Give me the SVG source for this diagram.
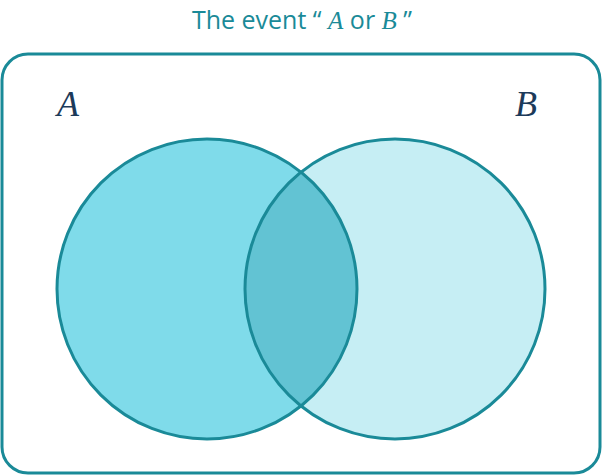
<svg xmlns="http://www.w3.org/2000/svg" width="603" height="476" viewBox="0 0 603 476">
<style>
.t{font-family:"Open Sans","Liberation Sans",sans-serif;font-size:25px;fill:#1a8a98}
.m{font-family:"Liberation Serif",serif;font-style:italic}
.l{font-family:"Liberation Serif",serif;font-style:italic;font-size:36px;fill:#1c3a5a}
.s{stroke:#1a8a98;stroke-width:3}
</style>
<defs><clipPath id="ca"><circle cx="207" cy="289" r="150"/></clipPath></defs>
<text class="t" x="302" y="29" text-anchor="middle">The event “ <tspan class="m">A</tspan> or <tspan class="m">B</tspan> ”</text>
<rect x="2" y="54" width="598" height="419" rx="26" fill="#fff" class="s"/>
<g id="circleA"><circle cx="207" cy="289" r="150" fill="#7fdbea"/></g>
<g id="circleB"><circle cx="395" cy="289" r="150" fill="#c6eef4"/>
<circle cx="395" cy="289" r="150" fill="#62c3d3" clip-path="url(#ca)"/></g>
<g id="outlines" fill="none" class="s"><circle cx="207" cy="289" r="150"/><circle cx="395" cy="289" r="150"/></g>
<text class="l" x="57" y="116">A</text>
<text class="l" x="515" y="116">B</text>
</svg>
